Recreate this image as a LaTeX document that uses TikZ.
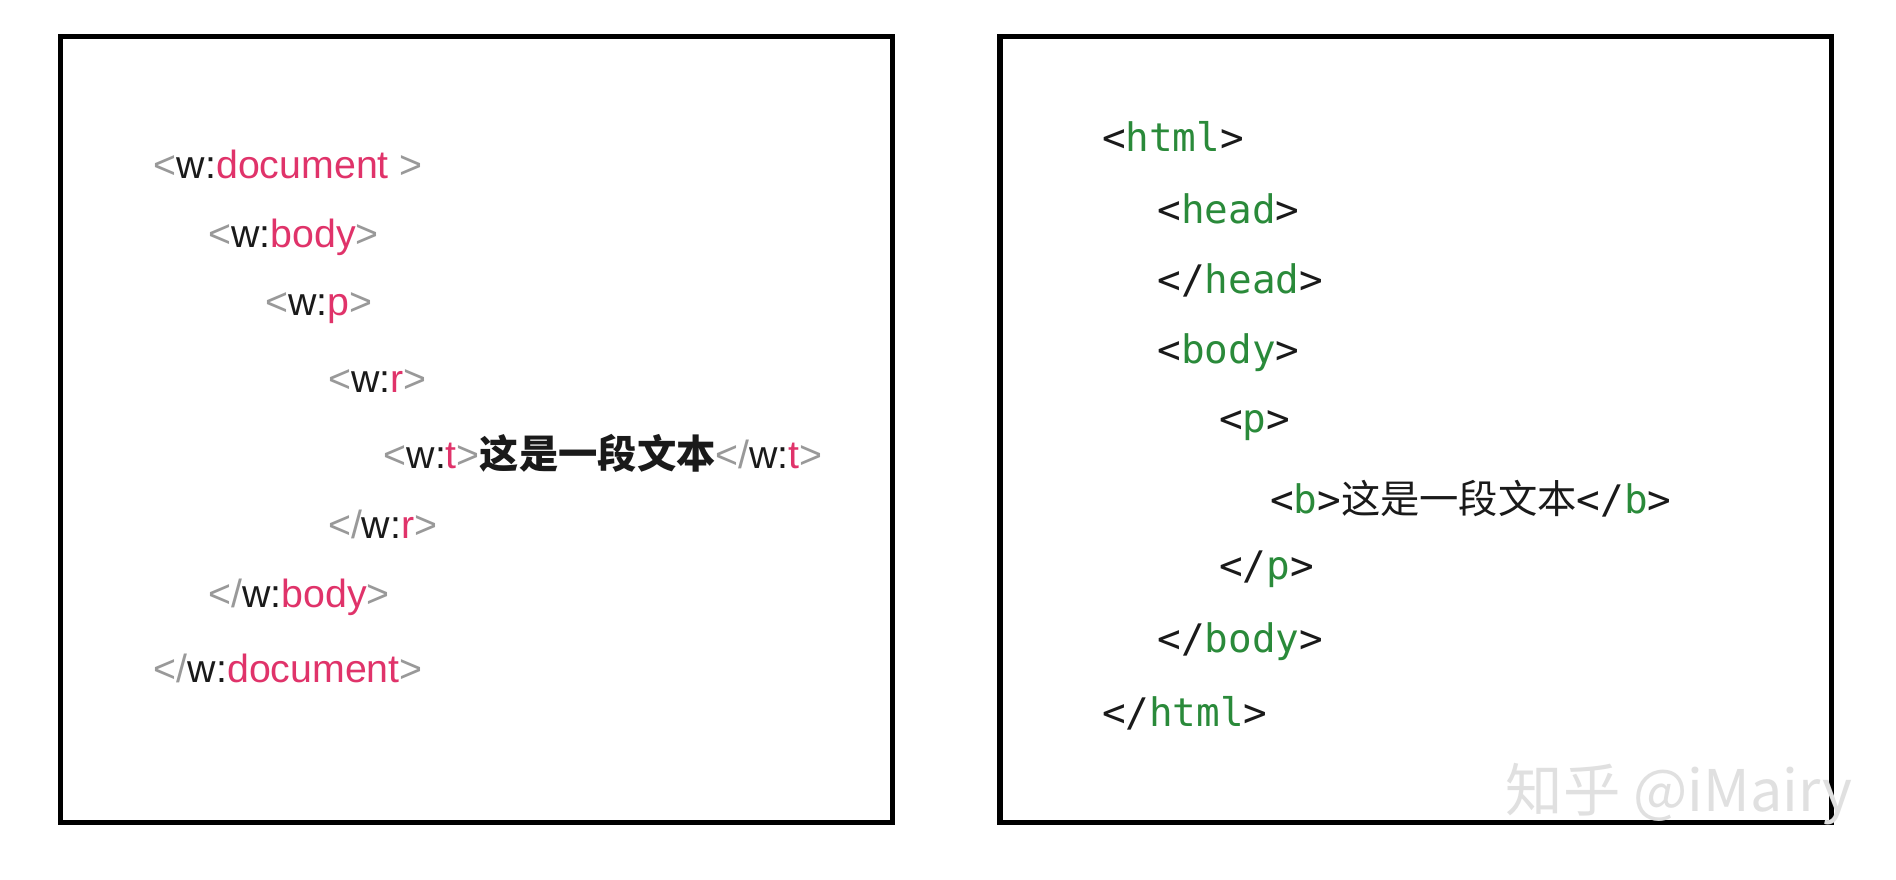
\documentclass[tikz,border=0pt]{standalone}
\usepackage{fontspec}
\setmainfont{Liberation Sans}
\setmonofont{DejaVu Sans Mono}
\newfontfamily\cjk{Noto Sans CJK SC}
\definecolor{pk}{HTML}{E0336A}
\definecolor{gr}{HTML}{999999}
\definecolor{gn}{HTML}{2A8A3A}
\definecolor{tx}{HTML}{1A1A1A}
\newcommand{\Gy}[1]{\textcolor{gr}{#1}}
\newcommand{\Pk}[1]{\textcolor{pk}{#1}}
\newcommand{\Gn}[1]{\textcolor{gn}{#1}}
\begin{document}
\begin{tikzpicture}[x=0.02cm,y=-0.02cm,
  box/.style={draw=black,line width=2.4pt},
  xl/.style={anchor=west,inner sep=0,font=\fontsize{18.5}{20}\selectfont,text=tx},
  hl/.style={anchor=west,inner sep=0,font=\fontsize{18.5}{20}\selectfont\ttfamily,text=tx}]
\useasboundingbox[fill=white] (0,0) rectangle (1568,727);
\draw[box] (50,30) rectangle (738,680);
\draw[box] (827,30) rectangle (1515,680);
\node[xl] (l1) at (127,136) {\Gy{<}w:\Pk{document} \Gy{>}};
\node[xl] (l2) at (172,196) {\Gy{<}w:\Pk{body}\Gy{>}};
\node[xl] (l3) at (219,255) {\Gy{<}w:\Pk{p}\Gy{>}};
\node[xl] (l4) at (271,315) {\Gy{<}w:\Pk{r}\Gy{>}};
\node[xl] (l5) at (317,375) {\Gy{<}w:\Pk{t}\Gy{>}{\cjk\bfseries 这是一段文本}\Gy{</}w:\Pk{t}\Gy{>}};
\node[xl] (l6) at (271,434) {\Gy{</}w:\Pk{r}\Gy{>}};
\node[xl] (l7) at (172,494) {\Gy{</}w:\Pk{body}\Gy{>}};
\node[xl] (l8) at (127,553) {\Gy{</}w:\Pk{document}\Gy{>}};
\node[hl] (r1) at (911,113) {<\Gn{html}>};
\node[hl] (r2) at (957,173) {<\Gn{head}>};
\node[hl] (r3) at (957,232) {</\Gn{head}>};
\node[hl] (r4) at (957,292) {<\Gn{body}>};
\node[hl] (r5) at (1008,352) {<\Gn{p}>};
\node[hl] (r6) at (1050,412) {<\Gn{b}>{\cjk 这是一段文本}</\Gn{b}>};
\node[hl] (r7) at (1008,471) {</\Gn{p}>};
\node[hl] (r8) at (957,531) {</\Gn{body}>};
\node[hl] (r9) at (911,590) {</\Gn{html}>};
\node[anchor=west,inner sep=0,text=black!12,font=\cjk\fontsize{27}{29}\selectfont] (wm) at (1245,657) {知乎 @iMairy};
\end{tikzpicture}
\end{document}
